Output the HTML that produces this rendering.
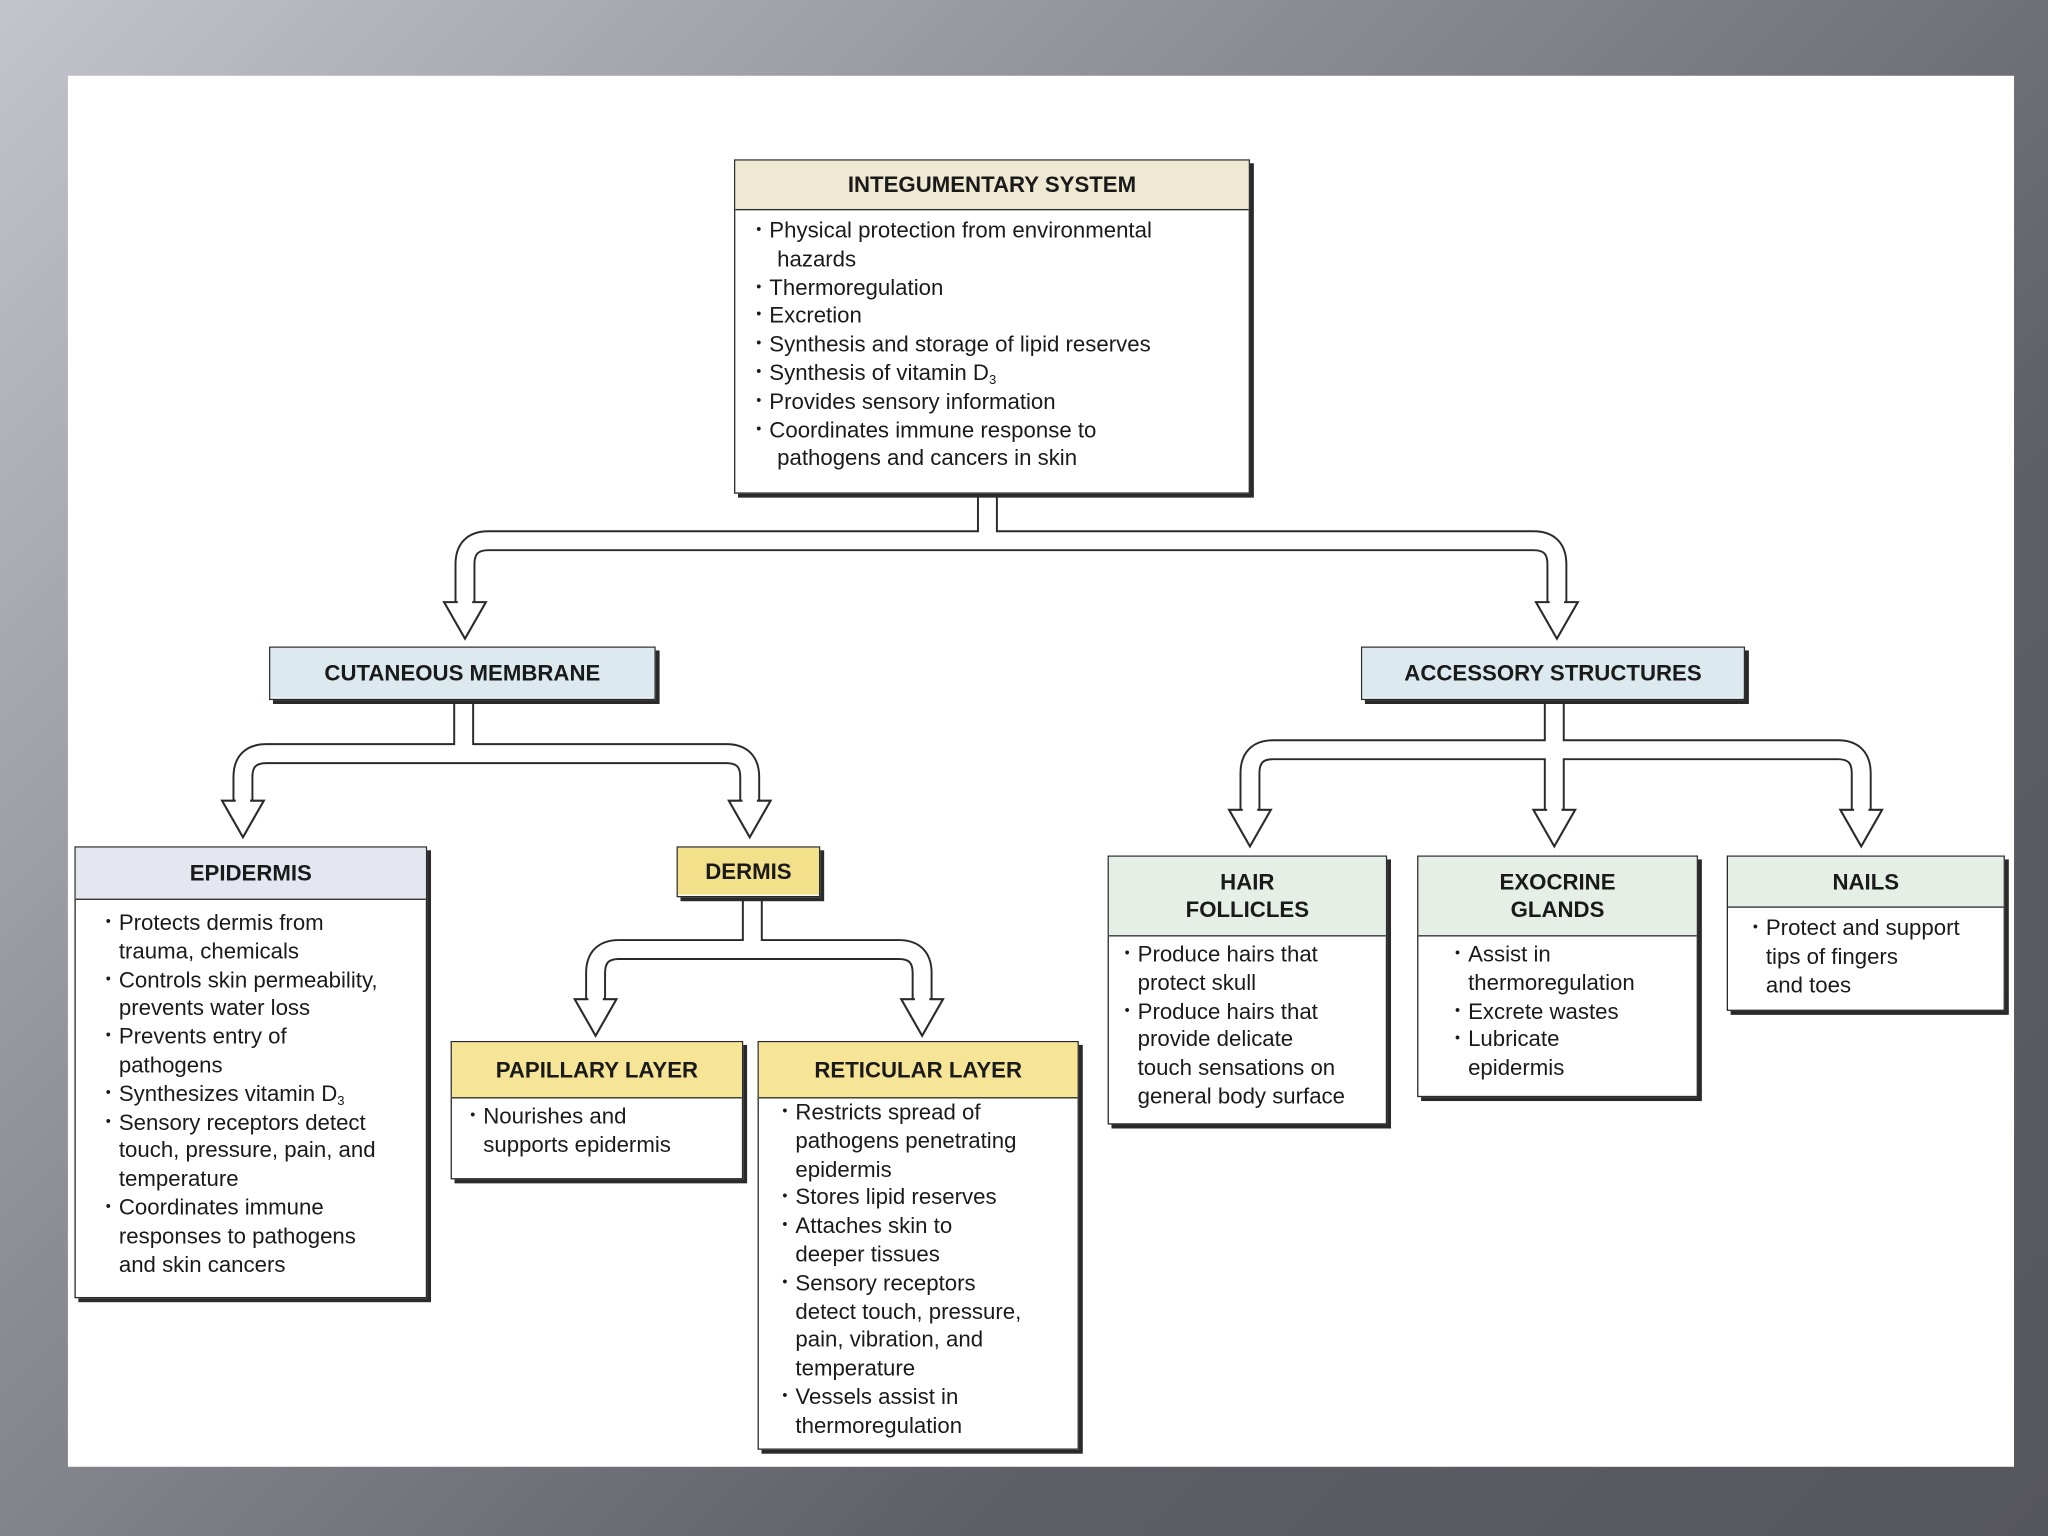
<!DOCTYPE html>
<html><head><meta charset="utf-8"><style>
html,body{margin:0;padding:0;}
body{width:2048px;height:1536px;overflow:hidden;background:linear-gradient(135deg,#c4c4cc 0%,#8e8e96 35%,#5e5e66 70%,#55555c 100%);position:relative;font-family:"Liberation Sans",Arial,sans-serif;}
#s{position:absolute;left:0;top:0;width:1568px;height:1176px;transform:scale(1.30612);transform-origin:0 0;}
#panel{position:absolute;left:52px;top:58px;width:1490px;height:1065px;background:#fff;}
.box{position:absolute;border:1.5px solid #2a2a2a;box-shadow:3px 3px 0 #2a2a2a;background:#fff;box-sizing:border-box;}
.hd{border-bottom:1.5px solid #2a2a2a;font-weight:bold;font-size:17px;color:#1a1a1a;text-align:center;box-sizing:border-box;display:flex;align-items:center;justify-content:center;line-height:21px;}
.bd{position:absolute;font-size:17px;color:#1a1a1a;line-height:21.8px;white-space:nowrap;}
.bd div{padding-left:10px;position:relative;}
.bd div.b::before{content:"•";position:absolute;left:0;font-size:11px;}
sub{font-size:10px;vertical-align:-3px;line-height:0;}
svg{position:absolute;left:0;top:0;}
</style></head><body>
<div id="s">
<div id="panel"></div>
<svg width="1568" height="1176" viewBox="0 0 1568 1176">
<g fill="none" stroke-linejoin="round">
<g stroke="#2a2a2a" stroke-width="16">
<path d="M756 378 V414 M356 462 V432 Q356 414 374 414 H1174 Q1192 414 1192 432 V462"/>
<path d="M355 536 V577 M186 614 V595 Q186 577 204 577 H556 Q574 577 574 595 V614"/>
<path d="M576 687 V727 M456 766 V745 Q456 727 474 727 H688 Q706 727 706 745 V766"/>
<path d="M1190 536 V621 M957 621 V592 Q957 574 975 574 H1407 Q1425 574 1425 592 V621"/>
</g>
<g stroke="#fff" stroke-width="13">
<path d="M756 376 V414 M356 464 V432 Q356 414 374 414 H1174 Q1192 414 1192 432 V464"/>
<path d="M355 534 V577 M186 616 V595 Q186 577 204 577 H556 Q574 577 574 595 V616"/>
<path d="M576 685 V727 M456 768 V745 Q456 727 474 727 H688 Q706 727 706 745 V768"/>
<path d="M1190 534 V623 M957 623 V592 Q957 574 975 574 H1407 Q1425 574 1425 592 V623"/>
</g>
</g>
<g fill="#fff" stroke="#2a2a2a" stroke-width="1.6" stroke-linejoin="miter">
<polygon points="340,461 372,461 356,489"/>
<polygon points="1176,461 1208,461 1192,489"/>
<polygon points="170,613 202,613 186,641"/>
<polygon points="558,613 590,613 574,641"/>
<polygon points="440,765 472,765 456,793"/>
<polygon points="690,765 722,765 706,793"/>
<polygon points="941,620 973,620 957,648"/>
<polygon points="1174,620 1206,620 1190,648"/>
<polygon points="1409,620 1441,620 1425,648"/>
</g>
<g stroke="#fff" stroke-width="11">
<path d="M356 454 V463 M1192 454 V463 M186 606 V615 M574 606 V615 M456 758 V767 M706 758 V767 M957 613 V622 M1190 613 V622 M1425 613 V622"/>
</g>
</svg>

<div class="box" style="left:562px;top:122px;width:395px;height:256px;">
<div class="hd" style="height:38px;background:#efe9d3;">INTEGUMENTARY SYSTEM</div>
<div class="bd" style="left:16px;top:43px;">
<div class="b">Physical protection from environmental</div>
<div style="padding-left:16px">hazards</div>
<div class="b">Thermoregulation</div>
<div class="b">Excretion</div>
<div class="b">Synthesis and storage of lipid reserves</div>
<div class="b">Synthesis of vitamin D<sub>3</sub></div>
<div class="b">Provides sensory information</div>
<div class="b">Coordinates immune response to</div>
<div style="padding-left:16px">pathogens and cancers in skin</div>
</div></div>

<div class="box" style="left:206px;top:495px;width:296px;height:41px;">
<div class="hd" style="height:38px;background:#dceaf0;border:none;">CUTANEOUS MEMBRANE</div></div>
<div class="box" style="left:1042px;top:495px;width:294px;height:41px;">
<div class="hd" style="height:38px;background:#dceaf0;border:none;">ACCESSORY STRUCTURES</div></div>

<div class="box" style="left:57px;top:648px;width:270px;height:346px;">
<div class="hd" style="height:40px;background:#e4e6f0;">EPIDERMIS</div>
<div class="bd" style="left:23px;top:47px;">
<div class="b">Protects dermis from</div><div>trauma, chemicals</div>
<div class="b">Controls skin permeability,</div><div>prevents water loss</div>
<div class="b">Prevents entry of</div><div>pathogens</div>
<div class="b">Synthesizes vitamin D<sub>3</sub></div>
<div class="b">Sensory receptors detect</div><div>touch, pressure, pain, and</div><div>temperature</div>
<div class="b">Coordinates immune</div><div>responses to pathogens</div><div>and skin cancers</div>
</div></div>

<div class="box" style="left:518px;top:648px;width:110px;height:39px;">
<div class="hd" style="height:36px;background:#f3e08a;border:none;">DERMIS</div></div>

<div class="box" style="left:345px;top:797px;width:224px;height:106px;">
<div class="hd" style="height:43px;background:#f6e597;">PAPILLARY LAYER</div>
<div class="bd" style="left:14px;top:46px;">
<div class="b">Nourishes and</div><div>supports epidermis</div>
</div></div>

<div class="box" style="left:580px;top:797px;width:246px;height:313px;">
<div class="hd" style="height:43px;background:#f6e597;">RETICULAR LAYER</div>
<div class="bd" style="left:18px;top:43px;">
<div class="b">Restricts spread of</div><div>pathogens penetrating</div><div>epidermis</div>
<div class="b">Stores lipid reserves</div>
<div class="b">Attaches skin to</div><div>deeper tissues</div>
<div class="b">Sensory receptors</div><div>detect touch, pressure,</div><div>pain, vibration, and</div><div>temperature</div>
<div class="b">Vessels assist in</div><div>thermoregulation</div>
</div></div>

<div class="box" style="left:848px;top:655px;width:214px;height:206px;">
<div class="hd" style="height:61px;background:#e6efe6;">HAIR<br>FOLLICLES</div>
<div class="bd" style="left:12px;top:64px;">
<div class="b">Produce hairs that</div><div>protect skull</div>
<div class="b">Produce hairs that</div><div>provide delicate</div><div>touch sensations on</div><div>general body surface</div>
</div></div>

<div class="box" style="left:1085px;top:655px;width:215px;height:185px;">
<div class="hd" style="height:61px;background:#e6efe6;">EXOCRINE<br>GLANDS</div>
<div class="bd" style="left:28px;top:64px;">
<div class="b">Assist in</div><div>thermoregulation</div>
<div class="b">Excrete wastes</div>
<div class="b">Lubricate</div><div>epidermis</div>
</div></div>

<div class="box" style="left:1322px;top:655px;width:213px;height:119px;">
<div class="hd" style="height:39px;background:#e6efe6;">NAILS</div>
<div class="bd" style="left:19px;top:44px;">
<div class="b">Protect and support</div><div>tips of fingers</div><div>and toes</div>
</div></div>
</div>
</body></html>
